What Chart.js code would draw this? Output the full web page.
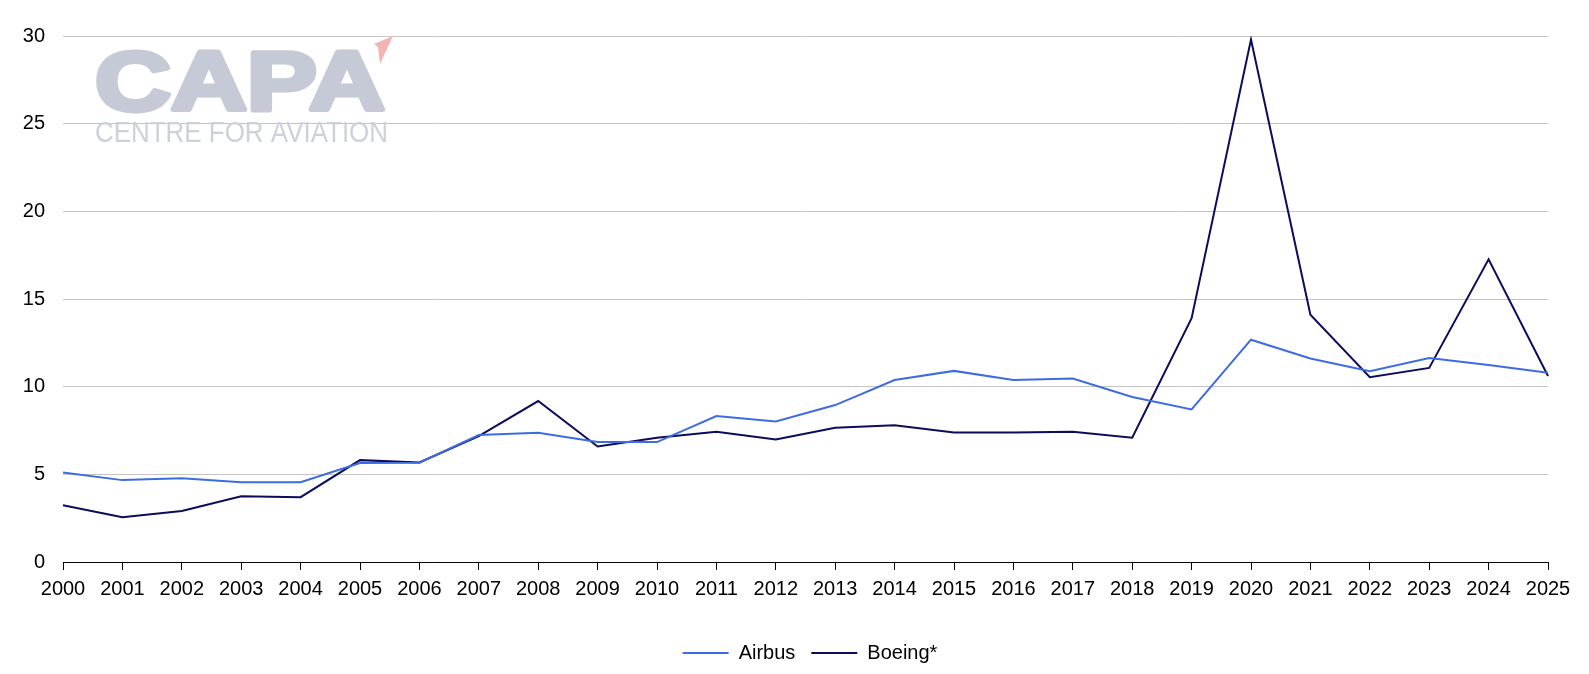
<!DOCTYPE html>
<html>
<head>
<meta charset="utf-8">
<script src="https://cdn.jsdelivr.net/npm/chart.js@4/dist/chart.umd.min.js"></script>
<style>
  html, body { margin: 0; padding: 0; background: #fff; }
  #wrap { width: 1589px; height: 674px; }
</style>
</head>
<body>
<div id="wrap"><canvas id="lineChart"></canvas></div>
<script>
const years = ['2000', '2001', '2002', '2003', '2004', '2005', '2006', '2007', '2008', '2009',
    '2010', '2011', '2012', '2013', '2014', '2015', '2016', '2017', '2018', '2019',
    '2020', '2021', '2022', '2023', '2024', '2025'];
const airbus = [5.10, 4.67, 4.78, 4.55, 4.55, 5.64, 5.66, 7.24, 7.37, 6.84,
    6.84, 8.32, 8.02, 8.95, 10.38, 10.90, 10.38, 10.46, 9.41, 8.70,
    12.68, 11.61, 10.88, 11.63, 11.23, 10.80];
const boeing = [3.24, 2.55, 2.91, 3.75, 3.70, 5.81, 5.68, 7.18, 9.18, 6.59,
    7.09, 7.43, 6.99, 7.66, 7.80, 7.39, 7.39, 7.43, 7.09, 13.91,
    29.80, 14.10, 10.54, 11.07, 17.26, 10.61];
const yTicks = [0, 5, 10, 15, 20, 25, 30];

const FONT = '"Liberation Sans", Arial, sans-serif';

// CAPA watermark behind the lines
const watermark = {
    id: 'watermark',
    afterLayout(chart) {
        // legend sits a bit right of the plot centre in the original
        chart.legend.left += 36;
        chart.legend.right += 36;
    },
    beforeDatasetsDraw(chart) {
        const ctx = chart.ctx;
        ctx.save();
        ctx.fillStyle = '#c5cad6';
        ctx.strokeStyle = '#c5cad6';
        ctx.lineJoin = 'round';
        ctx.lineWidth = 5;
        ctx.font = 'bold 84px ' + FONT;
        ctx.textBaseline = 'alphabetic';
        let w = ctx.measureText('CAPA').width;
        ctx.save();
        ctx.translate(95, 110);
        ctx.scale(290 / w, 1);
        ctx.fillText('CAPA', 0, 0);
        ctx.strokeText('CAPA', 0, 0);
        ctx.restore();

        ctx.fillStyle = '#cdd1db';
        ctx.font = '29px ' + FONT;
        w = ctx.measureText('CENTRE FOR AVIATION').width;
        ctx.save();
        ctx.translate(95, 142);
        ctx.scale(293 / w, 1);
        ctx.fillText('CENTRE FOR AVIATION', 0, 0);
        ctx.restore();

        ctx.fillStyle = '#f2b4b4';
        ctx.beginPath();
        ctx.moveTo(393, 36);
        ctx.lineTo(374, 44);
        ctx.lineTo(378, 47);
        ctx.lineTo(380, 64);
        ctx.closePath();
        ctx.fill();
        ctx.restore();
    }
};

const ctx = document.getElementById('lineChart').getContext('2d');
new Chart(ctx, {
    type: 'line',
    data: {
        labels: years,
        datasets: [{
            label: 'Airbus',
            data: airbus,
            borderColor: '#3e6ce0',
            backgroundColor: '#3e6ce0',
            borderWidth: 2,
            pointRadius: 0,
            tension: 0
        }, {
            label: 'Boeing*',
            data: boeing,
            borderColor: '#0c0c5a',
            backgroundColor: '#0c0c5a',
            borderWidth: 2,
            pointRadius: 0,
            tension: 0
        }]
    },
    options: {
        responsive: true,
        maintainAspectRatio: false,
        animation: false,
        layout: { padding: { top: 36, right: 41, left: 0, bottom: 1 } },
        plugins: {
            tooltip: { enabled: false },
            legend: {
                position: 'bottom',
                labels: {
                    usePointStyle: true,
                    pointStyle: 'line',
                    pointStyleWidth: 46,
                    color: '#000',
                    padding: 16,
                    font: { family: FONT, size: 20 }
                }
            }
        },
        scales: {
            x: {
                offset: false,
                grid: { drawOnChartArea: false, drawTicks: true, tickLength: 8, color: '#000' },
                border: { color: '#000', width: 1 },
                ticks: {
                    color: '#000',
                    maxRotation: 0,
                    autoSkip: false,
                    padding: 7,
                    font: { family: FONT, size: 20 }
                },
                afterFit(scale) { scale.height = 65; }
            },
            y: {
                min: 0,
                max: 30,
                afterBuildTicks(scale) { scale.ticks = yTicks.map(v => ({ value: v })); },
                grid: { color: '#c4c4c4', drawTicks: false },
                border: { display: false },
                ticks: {
                    color: '#000',
                    padding: 18,
                    font: { family: FONT, size: 20 }
                },
                afterFit(scale) { scale.width = 63; }
            }
        }
    },
    plugins: [watermark]
});
</script>
</body>
</html>
